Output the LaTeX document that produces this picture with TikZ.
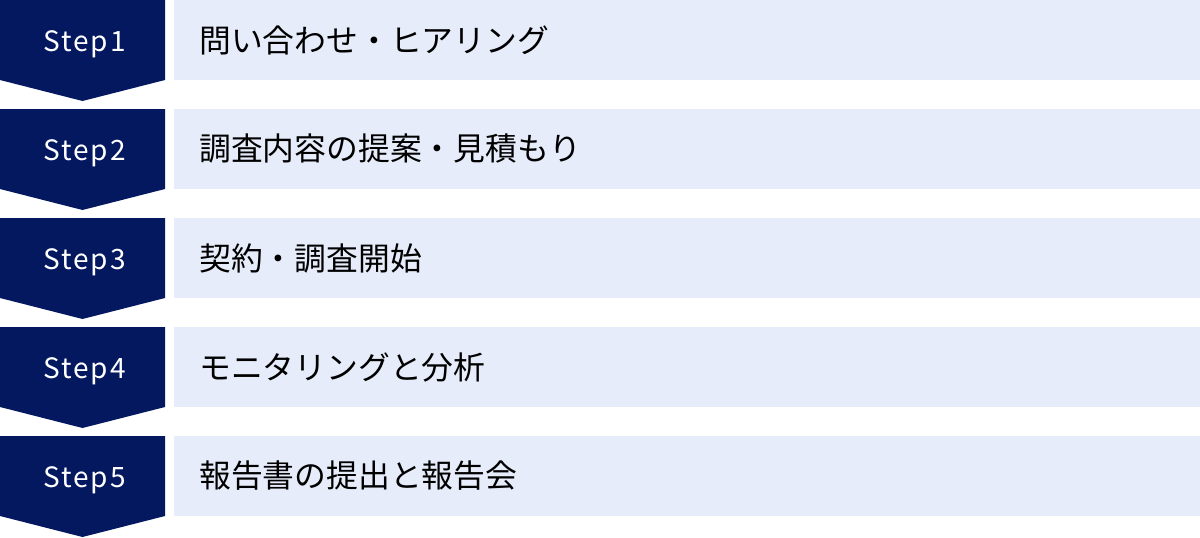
\documentclass[tikz,border=0pt]{standalone}
\usepackage{fontspec}
\setmainfont{Noto Sans CJK JP}
\definecolor{navy}{RGB}{4,24,96}
\definecolor{pale}{RGB}{230,236,249}
\begin{document}
\begin{tikzpicture}[x=1pt,y=-1pt,
  stepshape/.style={fill=navy,draw=none},
  stepbar/.style={fill=pale,draw=none},
  steplabel/.style={text=white,font=\fontsize{28}{30}\selectfont\addfontfeature{LetterSpace=7},inner sep=0pt,anchor=base},
  barlabel/.style={text=black,font=\fontsize{31.8}{36}\selectfont,inner sep=0pt,anchor=west}]
\useasboundingbox (0,0) rectangle (1200,538);
\foreach \i/\t [count=\k from 0] in {1/問い合わせ・ヒアリング,2/調査内容の提案・見積もり,3/契約・調査開始,4/モニタリングと分析,5/報告書の提出と報告会}{
  \pgfmathsetmacro{\yy}{109*\k}
  \fill[stepshape] (0,\yy) -- (165,\yy) -- (165,\yy+80) -- (82.5,\yy+101) -- (0,\yy+80) -- cycle;
  \fill[stepbar] (174,\yy) rectangle (1200,\yy+80);
  \node[steplabel] (s\i) at (84.5,\yy+51.3) {Step\i};
  \node[barlabel] (t\i) at (199,\yy+40) {\t};
}
\end{tikzpicture}
\end{document}
